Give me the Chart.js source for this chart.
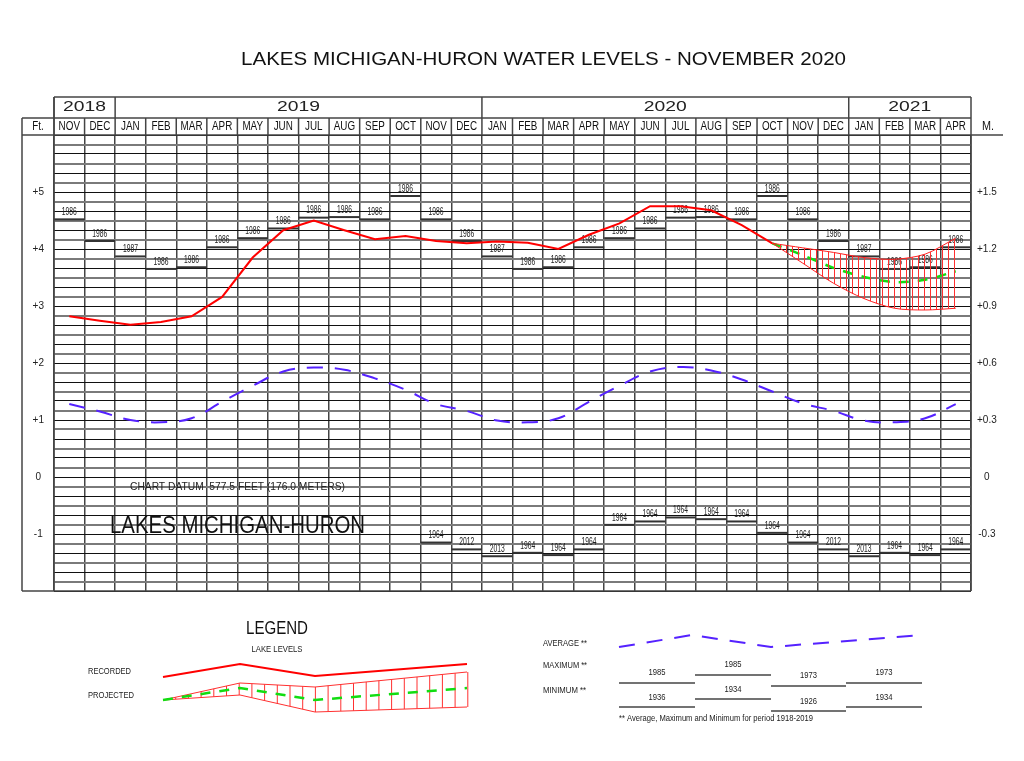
<!DOCTYPE html>
<html>
<head>
<meta charset="utf-8">
<script src="https://cdn.jsdelivr.net/npm/chart.js@4.4.1/dist/chart.umd.min.js"></script>
<style>
html, body { margin: 0; padding: 0; background: #fff; }
canvas { display: block; }
</style>
</head>
<body>
<canvas id="c" width="1024" height="761"></canvas>
<script>
// months Nov 2018 .. Apr 2021
var months = ['NOV', 'DEC', 'JAN', 'FEB', 'MAR', 'APR', 'MAY', 'JUN', 'JUL', 'AUG', 'SEP', 'OCT', 'NOV', 'DEC',
    'JAN', 'FEB', 'MAR', 'APR', 'MAY', 'JUN', 'JUL', 'AUG', 'SEP', 'OCT', 'NOV', 'DEC', 'JAN', 'FEB', 'MAR', 'APR'];
var yearLabels = ['2018', '2019', '2020', '2021'];
var yearStart = [0, 2, 14, 26];
var yearEnd = [1, 13, 25, 29];

// lake levels in feet above chart datum
var recorded = [2.82, 2.74, 2.67, 2.72, 2.82, 3.16, 3.85, 4.33, 4.50, 4.33, 4.17, 4.23, 4.14, 4.10,
    4.13, 4.11, 4.00, 4.25, 4.45, 4.75, 4.75, 4.68, 4.42, 4.10, null, null, null, null, null, null];
var projHigh = [null, null, null, null, null, null, null, null, null, null, null, null, null, null,
    null, null, null, null, null, null, null, null, null, 4.10, 4.02, 3.94, 3.85, 3.82, 3.91, 4.19];
var projLow = [null, null, null, null, null, null, null, null, null, null, null, null, null, null,
    null, null, null, null, null, null, null, null, null, 4.10, 3.75, 3.40, 3.13, 2.96, 2.93, 2.96];
var projMid = [null, null, null, null, null, null, null, null, null, null, null, null, null, null,
    null, null, null, null, null, null, null, null, null, 4.10, 3.89, 3.67, 3.51, 3.42, 3.46, 3.61];
var average = [1.28, 1.15, 1.00, 0.96, 1.03, 1.32, 1.60, 1.85, 1.92, 1.88, 1.73, 1.53, 1.28, 1.16,
    0.99, 0.96, 1.03, 1.32, 1.60, 1.85, 1.93, 1.87, 1.71, 1.50, 1.29, 1.16, 0.99, 0.96, 1.03, 1.28];
var maxLevels = [4.52, 4.14, 3.87, 3.65, 3.68, 4.03, 4.19, 4.36, 4.55, 4.56, 4.52, 4.93, 4.52, 4.14,
    3.87, 3.65, 3.68, 4.03, 4.19, 4.36, 4.55, 4.56, 4.52, 4.93, 4.52, 4.14, 3.87, 3.65, 3.68, 4.03];
var maxYears = ['1986', '1986', '1987', '1986', '1986', '1986', '1986', '1986', '1986', '1986', '1986', '1986', '1986', '1986',
    '1987', '1986', '1986', '1986', '1986', '1986', '1986', '1986', '1986', '1986', '1986', '1986', '1987', '1986', '1986', '1986'];
var minLevels = [null, null, null, null, null, null, null, null, null, null, null, null, -1.15, -1.27,
    -1.39, -1.33, -1.37, -1.27, -0.84, -0.78, -0.71, -0.74, -0.78, -0.98, -1.15, -1.27, -1.39, -1.33, -1.37, -1.27];
var minYears = [null, null, null, null, null, null, null, null, null, null, null, null, '1964', '2012',
    '2013', '1964', '1964', '1964', '1964', '1964', '1964', '1964', '1964', '1964', '1964', '2012', '2013', '1964', '1964', '1964'];

var feetTicks = [5, 4, 3, 2, 1, 0, -1];
var feetLabels = ['+5', '+4', '+3', '+2', '+1', '0', '-1'];
var meterLabels = ['+1.5', '+1.2', '+0.9', '+0.6', '+0.3', '0', '-0.3'];

var FONT = '"Liberation Sans", Arial, sans-serif';

function fitText(ctx, text, cx, cy, size, width, color, align) {
    ctx.save();
    ctx.font = size + 'px ' + FONT;
    ctx.fillStyle = color || '#000';
    ctx.textBaseline = 'middle';
    ctx.textAlign = align || 'center';
    var w = ctx.measureText(text).width;
    ctx.translate(cx, cy);
    ctx.scale(width / w, 1);
    ctx.fillText(text, 0, 0);
    ctx.restore();
}

function narrowText(ctx, text, cx, cy, size, sx, color) {
    ctx.save();
    ctx.font = size + 'px ' + FONT;
    ctx.fillStyle = color || '#000';
    ctx.textBaseline = 'middle';
    ctx.textAlign = 'center';
    ctx.translate(cx, cy);
    ctx.scale(sx, 1);
    ctx.fillText(text, 0, 0);
    ctx.restore();
}

function line(ctx, pts) {
    ctx.beginPath();
    ctx.moveTo(pts[0][0], pts[0][1]);
    for (var i = 1; i < pts.length; i++) {
        ctx.lineTo(pts[i][0], pts[i][1]);
    }
    ctx.stroke();
}

var canvas = document.getElementById('c');
var ctx = canvas.getContext('2d');

// vertical hatch for the projected range
var pc = document.createElement('canvas');
pc.width = 6;
pc.height = 6;
var pctx = pc.getContext('2d');
pctx.fillStyle = '#ff3030';
pctx.fillRect(0, 0, 1, 6);
var hatch = ctx.createPattern(pc, 'repeat');

var stepPlugin = {
    id: 'steps',
    beforeDatasetsDraw: function (chart) {
        var c = chart.ctx, x = chart.scales.x, y = chart.scales.y;
        var half = (x.getPixelForValue(1) - x.getPixelForValue(0)) / 2;
        c.save();
        c.strokeStyle = '#333';
        c.lineWidth = 2;
        function steps(vals, labels) {
            for (var i = 0; i < vals.length; i++) {
                if (vals[i] === null) continue;
                var px = x.getPixelForValue(i), py = y.getPixelForValue(vals[i]);
                line(c, [[px - half, py], [px + half, py]]);
                fitText(c, labels[i], px, py - 7, 10, 15, '#222');
            }
        }
        steps(maxLevels, maxYears);
        steps(minLevels, minYears);
        c.restore();
    },
    afterDraw: function (chart) {
        var c = chart.ctx, x = chart.scales.x, a = chart.chartArea;
        var half = (x.getPixelForValue(1) - x.getPixelForValue(0)) / 2;
        c.save();
        c.strokeStyle = '#444';
        c.lineWidth = 1.5;
        // header table
        line(c, [[a.left, 97], [a.right, 97]]);
        line(c, [[22, 118], [a.right, 118]]);
        line(c, [[22, a.top], [1003, a.top]]);
        line(c, [[22, 118], [22, a.bottom]]);
        line(c, [[22, a.bottom], [a.right, a.bottom]]);
        line(c, [[a.left, 97], [a.left, a.bottom]]);
        line(c, [[a.right, 97], [a.right, a.bottom]]);
        for (var k = 0; k < yearLabels.length; k++) {
            var x0 = x.getPixelForValue(yearStart[k]) - half;
            var x1 = x.getPixelForValue(yearEnd[k]) + half;
            line(c, [[x0, 97], [x0, 118]]);
            fitText(c, yearLabels[k], (x0 + x1) / 2, 107, 14, 43, '#222');
        }
        for (var i = 0; i < months.length; i++) {
            var px = x.getPixelForValue(i);
            line(c, [[px - half, 118], [px - half, a.top]]);
            narrowText(c, months[i], px, 126.5, 12, 0.82, '#111');
        }
        narrowText(c, 'Ft.', 38, 126.5, 12, 0.82, '#111');
        narrowText(c, 'M.', 988, 126.5, 12, 0.9, '#111');

        // title and plot annotations
        fitText(c, 'LAKES MICHIGAN-HURON WATER LEVELS - NOVEMBER 2020', 543.5, 60, 18, 605, '#111');
        fitText(c, 'CHART DATUM  577.5 FEET (176.0 METERS)', 237.5, 487, 11, 215, '#222');
        fitText(c, 'LAKES MICHIGAN-HURON', 237.5, 526, 24, 255, '#111');

        // legend
        fitText(c, 'LEGEND', 277, 629, 18, 62, '#111');
        fitText(c, 'LAKE LEVELS', 277, 650, 9, 51, '#222');
        fitText(c, 'RECORDED', 88, 671, 9.5, 43, '#222', 'left');
        fitText(c, 'PROJECTED', 88, 695, 9.5, 46, '#222', 'left');

        var up = [[163, 700], [240, 683], [315, 687], [467, 672]];
        var lo = [[163, 700], [240, 695], [315, 712], [467, 707]];
        function interp(p, xx) {
            for (var j = 1; j < p.length; j++) {
                if (xx <= p[j][0]) {
                    var t = (xx - p[j - 1][0]) / (p[j][0] - p[j - 1][0]);
                    return p[j - 1][1] + t * (p[j][1] - p[j - 1][1]);
                }
            }
            return p[p.length - 1][1];
        }
        c.strokeStyle = '#ff3030';
        c.lineWidth = 1;
        for (var hx = 163; hx <= 468; hx += 12.7) {
            line(c, [[hx, interp(up, hx)], [hx, interp(lo, hx)]]);
        }
        line(c, up);
        line(c, lo);
        c.strokeStyle = '#ff0000';
        c.lineWidth = 2;
        line(c, [[163, 677], [240, 664], [315, 676], [467, 664]]);
        c.strokeStyle = '#11dd11';
        c.lineWidth = 2.5;
        c.setLineDash([10, 9]);
        line(c, [[163, 700], [240, 688], [315, 700], [467, 688]]);
        c.strokeStyle = '#5522ff';
        c.lineWidth = 2;
        c.setLineDash([16, 12]);
        line(c, [[619, 647], [692, 635], [771, 647], [922, 635]]);
        c.setLineDash([]);

        fitText(c, 'AVERAGE **', 543, 643, 9.5, 44, '#222', 'left');
        fitText(c, 'MAXIMUM **', 543, 665, 9.5, 44, '#222', 'left');
        fitText(c, 'MINIMUM **', 543, 690, 9.5, 43, '#222', 'left');
        c.strokeStyle = '#444';
        c.lineWidth = 1.5;
        var segX = [619, 695, 771, 846, 922];
        var legMax = [683, 675, 686, 683], legMaxY = ['1985', '1985', '1973', '1973'];
        var legMin = [707, 699, 711, 707], legMinY = ['1936', '1934', '1926', '1934'];
        for (var s = 0; s < 4; s++) {
            var cx = (segX[s] + segX[s + 1]) / 2;
            line(c, [[segX[s], legMax[s]], [segX[s + 1], legMax[s]]]);
            fitText(c, legMaxY[s], cx, legMax[s] - 11, 9.5, 17, '#222');
            line(c, [[segX[s], legMin[s]], [segX[s + 1], legMin[s]]]);
            fitText(c, legMinY[s], cx, legMin[s] - 10, 9.5, 17, '#222');
        }
        fitText(c, '** Average, Maximum and Minimum for period 1918-2019', 619, 719, 9, 194, '#222', 'left');
        c.restore();
    }
};

var chart = new Chart(ctx, {
    type: 'line',
    data: {
        labels: months,
        datasets: [{
            label: 'Recorded',
            data: recorded,
            borderColor: '#ff0000',
            borderWidth: 2,
            pointRadius: 0
        }, {
            label: 'Projected high',
            data: projHigh,
            borderColor: '#ff2020',
            borderWidth: 1,
            pointRadius: 0,
            tension: 0.3
        }, {
            label: 'Projected low',
            data: projLow,
            borderColor: '#ff2020',
            borderWidth: 1,
            pointRadius: 0,
            tension: 0.3,
            fill: '-1',
            backgroundColor: hatch
        }, {
            label: 'Projected',
            data: projMid,
            borderColor: '#11dd11',
            borderWidth: 2.5,
            borderDash: [10, 9],
            pointRadius: 0,
            tension: 0.3
        }, {
            label: 'Average',
            data: average,
            borderColor: '#5522ff',
            borderWidth: 2,
            borderDash: [16, 12],
            pointRadius: 0,
            tension: 0.4
        }]
    },
    options: {
        responsive: false,
        animation: false,
        devicePixelRatio: 1,
        layout: {padding: {left: 22, right: 21, top: 135, bottom: 170}},
        plugins: {legend: {display: false}, tooltip: {enabled: false}},
        scales: {
            x: {
                position: 'top',
                offset: true,
                grid: {offset: true, color: '#444', lineWidth: 1.5, drawTicks: false},
                border: {display: false},
                ticks: {display: false},
                afterFit: function (scale) { scale.height = 0; }
            },
            y: {
                position: 'left',
                min: -2,
                max: 6,
                afterBuildTicks: function (scale) {
                    var t = [];
                    for (var i = 0; i <= 48; i++) t.push({value: -2 + i / 6});
                    scale.ticks = t;
                },
                afterFit: function (scale) { scale.width = 32; },
                grid: {
                    drawTicks: false,
                    color: function (c) { return c.index % 2 ? '#7a7a7a' : '#111'; },
                    lineWidth: function (c) { return c.index % 2 ? 2 : 1; }
                },
                border: {display: false},
                ticks: {
                    autoSkip: false,
                    padding: 10,
                    crossAlign: 'center',
                    color: '#222',
                    font: {family: FONT, size: 10},
                    callback: function (v) {
                        var r = Math.round(v);
                        if (Math.abs(v - r) > 1e-6) return '';
                        var idx = feetTicks.indexOf(r);
                        return idx < 0 ? '' : feetLabels[idx];
                    }
                }
            },
            y2: {
                position: 'right',
                min: -2,
                max: 6,
                afterFit: function (scale) { scale.width = 32; },
                grid: {display: false, drawTicks: false},
                border: {display: false},
                ticks: {
                    stepSize: 1,
                    padding: 6,
                    crossAlign: 'center',
                    color: '#222',
                    font: {family: FONT, size: 10},
                    callback: function (v) {
                        var idx = feetTicks.indexOf(Math.round(v));
                        return idx < 0 ? '' : meterLabels[idx];
                    }
                }
            }
        }
    },
    plugins: [stepPlugin]
});
</script>
</body>
</html>
